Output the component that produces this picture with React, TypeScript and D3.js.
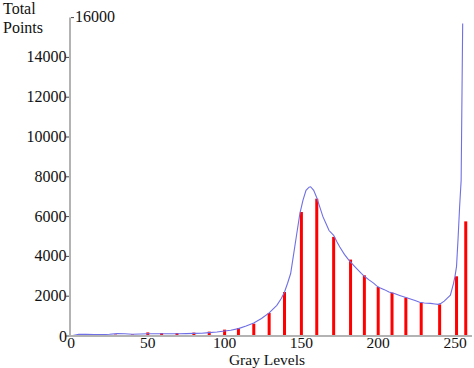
import React from "react";
import * as d3 from "d3";

const curveGray = [0, 2, 5, 10, 15, 20, 25, 30, 35, 40, 45, 50, 55, 60, 65, 70, 75, 80, 85, 90, 95, 100, 104, 109, 114, 119, 124, 129, 134, 137, 139, 141, 143, 145, 147, 149, 151, 153, 155, 156, 158, 160, 162, 164, 166, 168, 171, 173, 175, 178, 181, 184, 186, 189, 191, 194, 197, 199, 201, 204, 207, 211, 214, 217, 220, 224, 227, 230, 234, 237, 239, 241, 243, 245, 247, 249, 250, 251, 252, 253, 254, 255];
const curveCount = [0, 40, 80, 80, 70, 70, 90, 120, 110, 90, 100, 110, 110, 110, 110, 110, 120, 130, 140, 170, 200, 250, 290, 370, 500, 650, 880, 1160, 1540, 1900, 2210, 2650, 3140, 4140, 5150, 6150, 6820, 7320, 7480, 7500, 7320, 6950, 6480, 6000, 5650, 5300, 5060, 4750, 4470, 4100, 3800, 3550, 3390, 3150, 3000, 2820, 2660, 2520, 2430, 2330, 2210, 2120, 2040, 1960, 1880, 1780, 1700, 1660, 1640, 1610, 1590, 1650, 1750, 1900, 2050, 2630, 3000, 3500, 4900, 6480, 7820, 15700];

const stemGray = [9, 19, 29, 40, 50, 59, 69, 80, 90, 100, 109, 119, 129, 139, 150, 160, 171, 182, 191, 200, 209, 218, 228, 240, 251, 257];
const stemCount = [80, 70, 70, 80, 180, 150, 150, 170, 220, 320, 400, 620, 1160, 2210, 6230, 6900, 4980, 3840, 3050, 2460, 2180, 1930, 1680, 1590, 3000, 5760];

const xTicks = [0, 50, 100, 150, 200, 250];
const yTicks = [0, 2000, 4000, 6000, 8000, 10000, 12000, 14000, 16000];

export default function App() {
  const x = d3.scaleLinear().domain([0, 250]).range([71, 455]);
  const y = d3.scaleLinear().domain([0, 16000]).range([336, 17.6]);
  const pts = curveGray.map((g, i) => [g, curveCount[i]] as [number, number]);
  const line = d3.line<[number, number]>().x((d) => x(d[0])).y((d) => y(d[1]));
  const font = "'Liberation Serif', 'Times New Roman', serif";
  const axisColor = "#b3b3b3";
  return (
    <svg width={474} height={368} style={{ position: "absolute", left: 0, top: 0, background: "#fff" }} fontFamily={font}>
      <rect width={474} height={368} fill="#fff" />
      {stemGray.map((g, i) => (
        <line key={"s" + i} x1={x(g)} x2={x(g)} y1={y(0)} y2={y(stemCount[i])} stroke="#ff0000" strokeWidth={3} />
      ))}
      <path d={line(pts) || ""} fill="none" stroke="#6f6fe6" strokeWidth={1.1} />
      <line x1={70} x2={70} y1={y(16000)} y2={y(0) + 1} stroke={axisColor} strokeWidth={2} />
      <line x1={70} x2={472} y1={y(0)} y2={y(0)} stroke={axisColor} strokeWidth={2} />
      {yTicks.map((t) =>
        t === 16000 ? (
          <g key={"y" + t}>
            <line x1={71} x2={74} y1={y(t)} y2={y(t)} stroke="#444" strokeWidth={1} />
            <text x={75} y={y(t) + 4} fontSize={16} fill="#111">{t}</text>
          </g>
        ) : (
          <g key={"y" + t}>
            <line x1={66} x2={69} y1={y(t)} y2={y(t)} stroke="#444" strokeWidth={1} />
            <text x={t === 0 ? 67 : 66.5} y={y(t) + (t === 0 ? 5.5 : 5)} fontSize={16} textAnchor="end" fill="#111">{t}</text>
          </g>
        )
      )}
      {xTicks.map((t) => (
        <text key={"x" + t} x={x(t)} y={348} fontSize={15.5} textAnchor="middle" fill="#111">{t}</text>
      ))}
      <text x={267} y={364.5} fontSize={15.5} textAnchor="middle" fill="#111">Gray Levels</text>
      <text x={3} y={14} fontSize={16} fill="#111">Total</text>
      <text x={3} y={33} fontSize={16} fill="#111">Points</text>
    </svg>
  );
}
